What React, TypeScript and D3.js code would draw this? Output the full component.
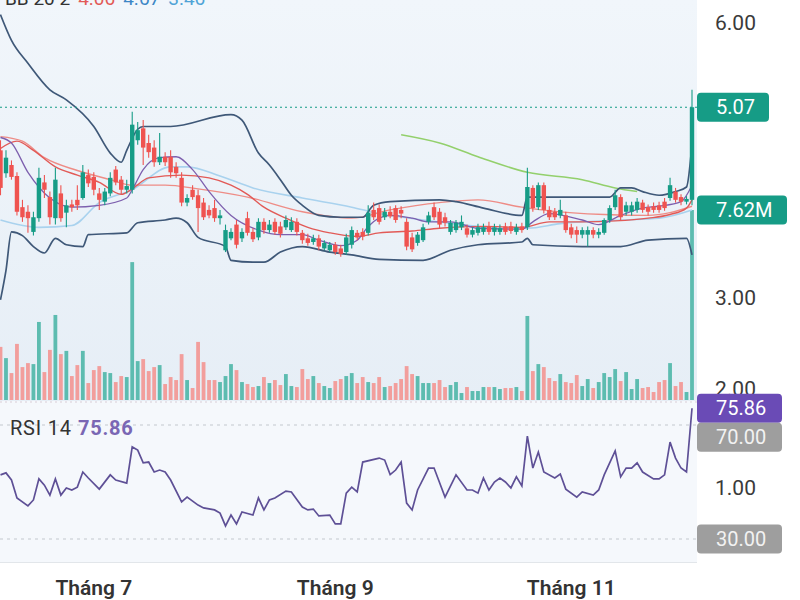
import React from "react";
import * as d3 from "d3";

// ---------- DATA ----------
const opens = [4.60,4.35,4.44,4.32,3.98,3.93,3.71,3.86,4.25,4.09,3.86,4.13,3.92,4.01,4.06,4.08,4.33,4.31,4.13,4.04,4.13,4.39,4.28,4.17,4.17,4.71,4.84,4.68,4.63,4.47,4.53,4.53,4.42,4.30,4.03,4.17,4.11,4.03,3.95,3.97,3.86,3.51,3.64,3.79,3.64,3.86,3.71,3.65,3.82,3.73,3.82,3.77,3.76,3.73,3.82,3.70,3.64,3.60,3.64,3.53,3.51,3.57,3.53,3.49,3.57,3.70,3.71,3.70,3.95,3.97,3.87,3.93,3.97,3.95,3.82,3.65,3.59,3.62,3.82,3.98,3.93,3.87,3.71,3.73,3.76,3.75,3.68,3.70,3.71,3.77,3.71,3.71,3.77,3.77,3.71,3.77,3.76,4.19,3.98,4.22,3.95,3.93,3.89,3.89,3.76,3.73,3.68,3.68,3.73,3.68,3.70,3.84,3.98,4.09,3.93,3.93,3.95,4.03,3.98,3.99,4.00,4.04,4.08,4.15,4.09,4.04,4.06];
const highs = [4.71,4.60,4.49,4.36,4.06,4.00,3.93,4.41,4.33,4.15,4.41,4.22,4.06,4.06,4.22,4.44,4.39,4.36,4.19,4.19,4.36,4.43,4.32,4.28,5.02,4.91,4.93,4.77,4.71,4.79,4.58,4.60,4.47,4.36,4.12,4.22,4.17,4.08,4.00,4.06,3.95,3.79,3.75,3.84,3.75,3.93,3.75,3.86,3.86,3.84,3.86,3.82,3.89,3.87,3.86,3.73,3.69,3.68,3.68,3.62,3.60,3.60,3.57,3.69,3.77,3.73,3.75,4.00,4.03,4.01,3.97,3.99,4.00,3.99,3.86,3.70,3.71,3.80,3.93,4.03,3.97,3.92,3.84,3.84,3.89,3.79,3.76,3.80,3.80,3.82,3.80,3.79,3.81,3.82,3.80,3.81,4.41,4.22,4.25,4.25,3.99,3.97,4.06,3.93,3.80,3.77,3.76,3.77,3.76,3.75,3.86,4.00,4.17,4.12,4.04,4.04,4.08,4.06,4.01,4.03,4.04,4.08,4.30,4.19,4.12,4.10,5.26];
const lows = [4.11,4.30,4.28,3.89,3.82,3.70,3.67,3.82,4.08,3.79,3.79,3.82,3.76,3.93,3.95,4.06,4.20,4.11,3.95,4.00,4.10,4.22,4.12,4.13,4.13,4.66,4.44,4.52,4.42,4.44,4.43,4.30,4.30,3.99,3.99,4.06,3.71,3.84,3.86,3.82,3.79,3.49,3.62,3.53,3.60,3.67,3.60,3.62,3.69,3.70,3.68,3.65,3.73,3.71,3.67,3.58,3.56,3.57,3.51,3.51,3.49,3.46,3.44,3.46,3.53,3.62,3.62,3.67,3.84,3.79,3.84,3.86,3.81,3.86,3.51,3.49,3.56,3.60,3.79,3.84,3.75,3.77,3.68,3.70,3.73,3.65,3.65,3.67,3.68,3.68,3.67,3.68,3.68,3.69,3.68,3.70,3.73,3.93,3.95,3.91,3.84,3.84,3.86,3.70,3.64,3.59,3.64,3.55,3.64,3.64,3.68,3.81,3.95,3.84,3.89,3.89,3.92,3.92,3.89,3.92,3.92,3.94,4.05,4.03,4.00,4.01,4.00];
const closes = [4.19,4.52,4.31,3.93,3.87,3.86,3.87,4.30,4.17,3.87,4.28,3.86,4.00,3.98,4.00,4.36,4.24,4.17,4.06,4.15,4.30,4.25,4.17,4.21,4.88,4.82,4.63,4.58,4.47,4.53,4.47,4.36,4.35,4.03,4.08,4.09,3.97,3.87,3.89,3.86,3.89,3.73,3.71,3.57,3.71,3.70,3.63,3.82,3.73,3.79,3.71,3.69,3.84,3.82,3.71,3.62,3.59,3.64,3.55,3.59,3.57,3.49,3.47,3.65,3.73,3.65,3.66,3.92,3.87,3.82,3.93,3.88,3.84,3.91,3.55,3.52,3.68,3.76,3.89,3.87,3.79,3.81,3.81,3.81,3.82,3.68,3.73,3.76,3.76,3.71,3.76,3.75,3.71,3.72,3.76,3.73,4.20,3.97,4.22,3.95,3.87,3.87,3.95,3.73,3.68,3.68,3.73,3.73,3.68,3.71,3.84,3.97,4.11,3.87,4.00,4.00,4.04,3.95,3.93,3.95,3.95,3.97,4.22,4.06,4.04,4.07,5.07];
// volume, millions
const volumes = [2.13,1.68,1.08,2.25,1.32,1.48,1.44,3.13,1.12,2.01,3.41,1.84,1.97,0.96,1.40,1.97,0.68,1.20,1.36,1.12,1.08,0.72,0.96,0.92,5.53,1.56,1.64,1.16,1.32,1.40,0.64,0.92,0.80,1.84,0.80,0.48,2.33,1.52,0.80,0.80,0.72,0.96,1.44,1.20,0.72,0.64,0.52,0.56,0.92,0.68,0.80,0.60,1.04,0.56,0.52,1.24,0.84,0.96,0.68,0.56,0.48,0.76,0.84,0.96,1.08,0.68,0.92,0.72,0.68,0.92,0.52,0.56,0.68,0.84,1.36,1.04,0.96,0.68,0.68,0.68,0.80,0.52,0.60,0.72,0.28,0.52,0.36,0.36,0.52,0.52,0.52,0.44,0.48,0.48,0.52,0.36,3.37,1.16,1.44,1.32,0.88,0.76,1.04,0.72,0.68,1.00,0.56,0.84,0.48,0.72,1.08,0.92,1.24,0.76,1.12,0.44,0.84,0.48,0.52,0.32,0.72,0.80,1.48,0.56,0.72,0.32,7.62];

// indicator lines: [candle index, value]
const bbUpper: [number, number][] = [[0,6.08],[2,5.80],[5,5.55],[9,5.26],[12,5.15],[17,4.86],[20,4.57],[22,4.47],[23,4.60],[25,4.83],[26,4.86],[31,4.86],[42,4.99],[44,4.93],[47,4.57],[49,4.44],[51,4.28],[53,4.11],[55,4.00],[58,3.89],[62,3.87],[66,3.87],[68,4.00],[71,4.04],[80,4.06],[83,4.04],[88,3.97],[95,3.89],[96,4.09],[111,4.09],[113,4.19],[115,4.19],[117,4.15],[120,4.11],[123,4.15],[125,4.20],[126,4.67]];
const bbLower: [number, number][] = [[0,2.97],[1,3.29],[2,3.71],[4,3.67],[6,3.55],[8,3.48],[10,3.64],[12,3.57],[15,3.55],[16,3.68],[23,3.70],[25,3.81],[30,3.84],[32,3.86],[34,3.81],[36,3.65],[41,3.55],[42,3.40],[46,3.38],[48,3.38],[51,3.49],[55,3.55],[60,3.49],[64,3.46],[69,3.41],[77,3.40],[82,3.51],[87,3.57],[95,3.60],[96,3.64],[97,3.57],[106,3.55],[113,3.55],[118,3.62],[125,3.64],[126,3.46]];
const bbMiddle: [number, number][] = [[0,4.62],[3,4.70],[6,4.60],[10,4.42],[14,4.33],[18,4.25],[22,4.12],[24,4.18],[27,4.30],[33,4.33],[38,4.30],[42,4.22],[45,4.12],[48,3.98],[52,3.86],[56,3.76],[60,3.70],[65,3.66],[69,3.70],[75,3.72],[80,3.75],[88,3.77],[95,3.76],[100,3.82],[106,3.82],[112,3.83],[118,3.86],[122,3.90],[125,3.97],[126,4.06]];
const maSalmon: [number, number][] = [[0,4.75],[4,4.70],[8,4.52],[14,4.38],[20,4.28],[24,4.22],[30,4.22],[36,4.18],[45,4.09],[55,3.93],[64,3.86],[71,3.95],[80,4.03],[87,4.06],[95,3.98],[100,3.94],[110,3.90],[118,3.89],[122,3.92],[126,3.99]];
const maPurple: [number, number][] = [[0,4.74],[2,4.68],[5,4.36],[9,4.08],[13,3.98],[18,4.00],[23,4.08],[24,4.17],[26,4.39],[29,4.52],[32,4.53],[35,4.39],[38,4.15],[42,3.89],[47,3.73],[51,3.68],[55,3.68],[58,3.62],[62,3.56],[65,3.62],[67,3.77],[71,3.89],[75,3.86],[78,3.82],[82,3.82],[87,3.75],[95,3.74],[97,3.82],[100,3.91],[106,3.84],[109,3.79],[113,3.89],[117,3.97],[120,3.99],[124,4.04],[126,4.22]];
const maLightBlue: [number, number][] = [[0,3.84],[7,3.76],[13,3.78],[18,4.03],[24,4.17],[31,4.42],[34,4.42],[40,4.32],[46,4.19],[55,4.08],[64,3.98],[69,3.91],[77,3.84],[84,3.79],[91,3.75],[96,3.75],[102,3.80],[113,3.84],[120,3.86],[126,3.95]];
const maGreen: [number, number][] = [[73,4.77],[80,4.68],[87,4.53],[96,4.36],[106,4.28],[112,4.19],[116,4.15]];
const rsi14: [number, number][] = [[0,52.5],[1,53.2],[2,50.7],[3,44.4],[5,41.6],[6,43.7],[7,51.1],[8,48.9],[9,45.4],[10,51.1],[11,45.4],[12,47.9],[13,47.2],[14,48.2],[15,53.5],[16,51.4],[18,47.5],[20,52.5],[21,50.7],[23,49.6],[24,62.3],[25,61.2],[26,56.7],[27,57.0],[28,53.5],[29,54.2],[30,53.5],[31,50.7],[33,43.0],[34,44.7],[36,41.9],[37,40.9],[39,40.2],[40,39.1],[41,34.6],[42,38.4],[43,35.3],[44,39.5],[46,38.4],[47,44.4],[48,40.2],[49,43.7],[50,44.4],[52,46.8],[53,46.5],[55,41.2],[56,40.2],[57,40.5],[58,38.1],[60,38.4],[61,35.3],[62,35.3],[63,46.1],[64,48.2],[65,46.5],[66,57.0],[69,58.4],[70,57.7],[71,52.6],[72,54.2],[73,57.0],[74,42.6],[75,40.2],[76,47.2],[78,54.9],[79,54.9],[81,44.7],[83,52.5],[85,47.2],[86,47.2],[87,46.1],[88,51.4],[89,47.2],[90,50.0],[91,51.4],[92,50.0],[93,47.9],[94,51.8],[95,48.6],[96,66.1],[97,54.9],[98,60.5],[99,53.5],[101,51.4],[102,52.8],[103,47.5],[105,44.7],[106,46.5],[108,45.4],[109,47.2],[110,52.5],[112,60.9],[113,51.8],[114,54.9],[115,54.9],[116,56.7],[117,53.5],[119,51.1],[120,51.1],[121,52.5],[122,64.0],[123,58.4],[124,54.9],[125,53.5],[126,75.86]];

const priceTicks = [6, 3, 2];
const rsiTicks: [number, string][] = [[48, "1.00"]];
const rsiLevels = [70, 30];
const monthTicks: [number, string][] = [[17, "Tháng 7"], [61, "Tháng 9"], [104, "Tháng 11"]];
const legendBB = { name: "BB 20 2", mid: "4.06", up: "4.67", low: "3.46" };
const rsiName = "RSI 14";

const FONT = "Roboto, 'Noto Sans', Arial, sans-serif";
const UP = "#169c86";
const DOWN = "#ef5350";

export default function App() {
  const plotR = 697;
  const n = closes.length;
  const x = d3.scaleLinear().domain([0, n - 1]).range([0.5, 692]);
  const y = d3.scaleLinear().domain([3, 6]).range([297, 22]);
  const yVol = d3.scaleLinear().domain([0, 7.62]).range([400, 210]);
  const yRsi = d3.scaleLinear().domain([30, 70]).range([539, 425]);

  const lineP = d3.line<[number, number]>().x(d => x(d[0])).y(d => y(d[1])).curve(d3.curveMonotoneX);
  const lineR = d3.line<[number, number]>().x(d => x(d[0])).y(d => yRsi(d[1]));

  const cw = 4.4;
  const lastClose = closes[n - 1];
  const lastRsi = rsi14[rsi14.length - 1][1];
  const rsiBoxC = yRsi(lastRsi);
  const r70C = Math.max(yRsi(70), rsiBoxC + 29);

  const boxLabel = (cy: number, w: number, fill: string, txt: string, tc: string, key: string) => (
    <g key={key}>
      <rect x={697} y={cy - 14.5} width={w} height={29} rx={4} fill={fill} />
      <text x={716} y={cy + 7} fontSize={20} fill={tc} fontFamily={FONT}>{txt}</text>
    </g>
  );

  return (
    <svg width={800} height={600} style={{ position: "absolute", left: 0, top: 0, background: "#fff" }}>
      <defs>
        <linearGradient id="pbg" x1="0" y1="0" x2="0" y2="1">
          <stop offset="0%" stopColor="#f1f6fb" />
          <stop offset="100%" stopColor="#e6eef6" />
        </linearGradient>
        <clipPath id="cp"><rect x={0} y={0} width={plotR} height={401} /></clipPath>
        <clipPath id="cr"><rect x={0} y={402} width={plotR} height={160} /></clipPath>
      </defs>
      <rect x={0} y={0} width={plotR} height={401} fill="url(#pbg)" />
      <rect x={0} y={401} width={plotR} height={161} fill="#f5f8fc" />
      <line x1={0} x2={plotR} y1={562.5} y2={562.5} stroke="#e2e6ea" />

      <g clipPath="url(#cp)">
        {volumes.map((v, i) => (
          <rect key={"v" + i} x={x(i) - 1.9} y={yVol(v)} width={3.8} height={yVol(0) - yVol(v)}
            fill={closes[i] >= opens[i] ? "#5dbcb0" : "#f29e9c"} />
        ))}
        <path d={lineP(maLightBlue) || ""} fill="none" stroke="#a9d2ee" strokeWidth={1.6} />
        <path d={lineP(maGreen) || ""} fill="none" stroke="#93d06c" strokeWidth={1.6} />
        <path d={lineP(maSalmon) || ""} fill="none" stroke="#ee8c86" strokeWidth={1.4} />
        <path d={lineP(bbMiddle) || ""} fill="none" stroke="#e25a57" strokeWidth={1.4} />
        <path d={lineP(maPurple) || ""} fill="none" stroke="#7d5fae" strokeWidth={1.3} />
        <path d={lineP(bbUpper) || ""} fill="none" stroke="#3f5878" strokeWidth={1.7} />
        <path d={lineP(bbLower) || ""} fill="none" stroke="#3f5878" strokeWidth={1.7} />
        {closes.map((c, i) => {
          const o = opens[i];
          const up = c >= o;
          const col = up ? UP : DOWN;
          const top = y(Math.max(o, c));
          const bot = y(Math.min(o, c));
          return (
            <g key={"c" + i}>
              <line x1={x(i)} x2={x(i)} y1={y(highs[i])} y2={y(lows[i])} stroke={col} strokeWidth={1.1} />
              <rect x={x(i) - cw / 2} y={top} width={cw} height={Math.max(1.2, bot - top)} fill={col} />
            </g>
          );
        })}
        <line x1={0} x2={plotR} y1={y(lastClose)} y2={y(lastClose)} stroke={UP} strokeWidth={1.2} strokeDasharray="2,3" />
      </g>

      <text x={5} y={5} fontSize={19} fontFamily={FONT}>
        <tspan fill="#333">{legendBB.name}</tspan>
        <tspan fill="#e25a57" dx={8}>{legendBB.mid}</tspan>
        <tspan fill="#3d86c6" dx={8}>{legendBB.up}</tspan>
        <tspan fill="#4fa3d6" dx={8}>{legendBB.low}</tspan>
      </text>

      <line x1={0} x2={plotR} y1={402} y2={402} stroke="#d9cdd6" strokeDasharray="2,3" />
      {rsiLevels.map(l => (
        <line key={"l" + l} x1={0} x2={plotR} y1={yRsi(l)} y2={yRsi(l)} stroke="#c3c8ce" strokeWidth={1} strokeDasharray="3,4" />
      ))}
      <g clipPath="url(#cr)">
        <path d={lineR(rsi14) || ""} fill="none" stroke="#5e5096" strokeWidth={1.7} />
      </g>
      <text x={10} y={435} fontSize={20} fontFamily={FONT} letterSpacing={0.8}>
        <tspan fill="#333">{rsiName}</tspan>
        <tspan fill="#7a67b4" fontWeight={700} dx={6}>{lastRsi.toFixed(2)}</tspan>
      </text>

      {priceTicks.map(t => (
        <text key={"p" + t} x={715} y={y(t) + 7.5} fontSize={21} fill="#3a3a3a" fontFamily={FONT}>{t.toFixed(2)}</text>
      ))}
      {rsiTicks.map(([v, s]) => (
        <text key={"r" + s} x={715} y={yRsi(v) + 7.5} fontSize={21} fill="#3a3a3a" fontFamily={FONT}>{s}</text>
      ))}
      {boxLabel(y(lastClose), 72, UP, lastClose.toFixed(2), "#fff", "b1")}
      {boxLabel(yVol(volumes[n - 1]), 90, UP, volumes[n - 1].toFixed(2) + "M", "#fff", "b2")}
      {boxLabel(rsiBoxC, 85, "#6a4bb6", lastRsi.toFixed(2), "#fff", "b3")}
      {boxLabel(r70C, 85, "#9e9e9e", "70.00", "#f2f2f2", "b4")}
      {boxLabel(yRsi(30), 85, "#9e9e9e", "30.00", "#f2f2f2", "b5")}

      {monthTicks.map(([i, s]) => (
        <text key={s} x={x(i)} y={595} textAnchor="middle" fontSize={21} fontWeight={600} fill="#333" fontFamily={FONT}>{s}</text>
      ))}
    </svg>
  );
}
